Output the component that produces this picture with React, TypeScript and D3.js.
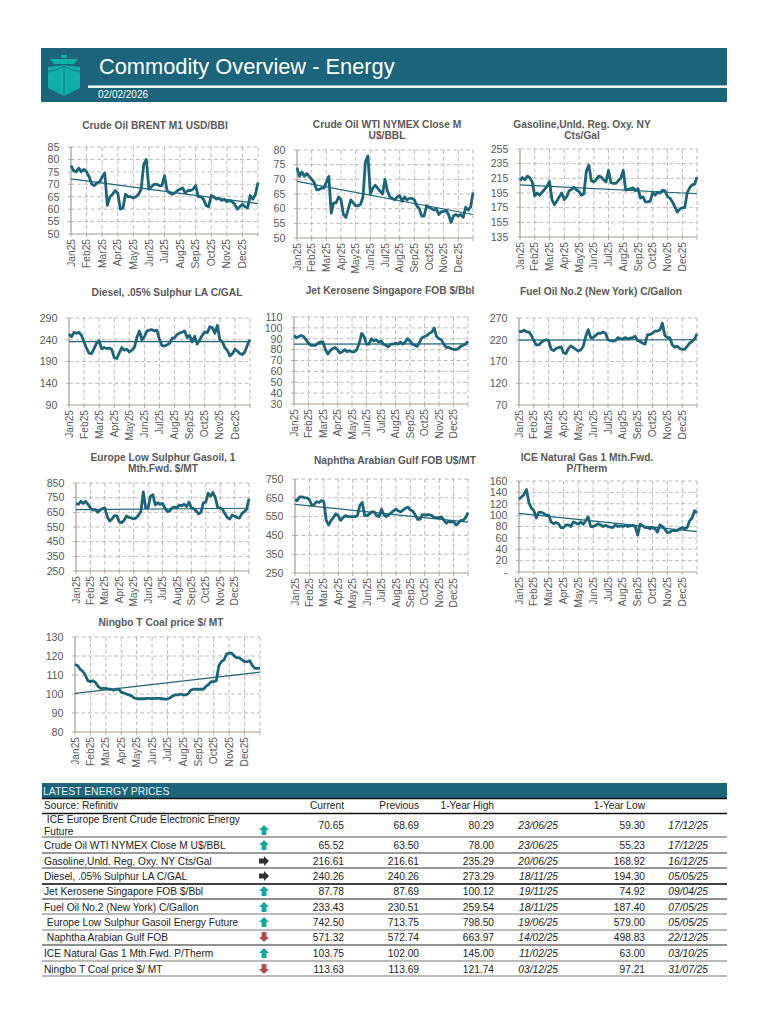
import React from "react";
import * as d3 from "d3";

const months = ["Jan25","Feb25","Mar25","Apr25","May25","Jun25","Jul25","Aug25","Sep25","Oct25","Nov25","Dec25"];

const brent = [77.5,75.5,75,76.5,75,76, 75,73,70,69.5,70.5,71, 73,74.5,61.5,65,66,67.5, 66.5,60,60.5,66,65,65, 64.5,65,66,68,78,80, 68,69,70,70,69.5,69.5, 73.5,67.5,66.5,66,66.5,67.5, 68,68.5,66.5,67.5,67.5,68, 69.5,65,65,64,61.5,61, 65.5,65,64,64.5,63.5,64, 63,63.5,63,62,60,61, 62,61,60.5,65.5,64,66,70.65];
const wti = [74,71,72.5,71,72,71, 70,69,66.5,66.5,67,67, 69,71,58.5,62,62,64, 63,58,57,60,63,62, 61,61,61.5,64,76,78, 65,67,68,67,66,65, 70,66,64,63.5,63,64, 64.5,62.5,64,63,63.5,63.5, 63,61,60,57.5,57.5,61, 60.5,60,59.5,60,58,59, 59,59.5,58,55.3,57.5,58, 57.5,58,57,60.5,59.5,60.5,65.52];
const gasoline = [212,216,213,218,216,210, 191,195,192,196,200,204, 211,186,179,184,190,195, 186,190,198,200,203,199, 197,192,194,225,233,212, 210,213,218,217,213,210, 226,209,208,208,212,215, 226,199,200,201,202,198, 201,188,190,183,183,184, 196,192,196,195,199,198, 190,188,183,176,169,173, 175,175,195,202,206,207,216.61];
const diesel = [253,247,257,255,257,250, 235,220,209,208,220,232, 238,219,222,220,221,218, 199,197,210,222,216,218, 212,216,222,245,260,240, 247,260,262,263,260,262, 240,226,226,228,232,243, 245,252,256,257,260,245, 250,235,248,230,240,250, 258,256,270,268,255,273, 240,235,222,215,203,208, 218,214,208,206,213,228,240.26];
const jet = [93,91,92,93,92,89, 86,84,84,84,86,87, 87,80,76,79,81,82, 80,77,78,80,78,79, 78,78,80,86,95,92, 85,85,90,88,89,87, 88,85,84,82.5,85,85, 86,85,87,85,87,90, 88,85,84,83,87,91, 92,93,95,96,100,92, 90,89,85,82,82,81, 80.5,80,81,83,84,85,87.78];
const fuelOil = [240,238,242,238,238,230, 218,208,208,214,218,220, 218,198,195,200,202,204, 190,188,200,206,202,198, 194,197,205,228,243,225, 225,230,235,235,238,235, 220,218,217,218,225,222, 222,225,222,224,225,228, 218,216,212,210,232,232, 235,240,240,243,258,230, 225,225,208,203,205,200, 198,198,205,212,216,222,233.43];
const gasoil = [710,705,725,710,725,705, 680,665,670,650,665,675, 680,620,590,605,628,625, 585,580,595,625,615,612, 605,612,630,655,790,680, 680,760,770,700,715,705, 710,680,655,660,680,685, 680,700,695,705,690,720, 680,675,660,640,650,715, 720,780,760,785,750,680, 680,670,640,615,605,630, 625,615,610,640,655,670,742.5];
const naphtha = [640,635,655,655,650,650, 640,610,615,630,625,635, 630,530,505,530,545,565, 555,530,545,555,550,550, 550,550,555,610,625,555, 555,565,575,575,555,550, 590,560,550,560,570,580, 590,580,575,585,595,600, 585,580,560,535,535,560, 558,560,560,555,545,545, 545,548,530,515,525,520, 525,505,515,530,530,545,571.32];
const natGas = [128,132,136,145,122,112, 108,95,105,105,103,100, 100,88,85,87,85,78, 78,83,83,80,88,86, 84,88,84,90,97,80, 80,82,85,83,80,82, 80,79,78,83,80,81, 80,82,80,81,82,80, 65,84,81,78,78,76, 79,76,70,83,80,75, 69,70,73,73,73,76, 78,76,78,90,95,108,103.75];
const coal = [115.5,115,113,112,110,107, 106.5,107,106,104,103,103, 103,102.5,102.5,102,102.5,102.5, 101,100.5,100,99.5,99,98, 97.5,97.5,97.5,97.5,97.7,97.7, 97.5,97.7,97.7,97.7,97.5,97.3, 97.3,98,99,99.5,99.5,100, 99.5,99.5,100,102,102.5,102.5, 102.5,102.5,102.5,104,105,106.5, 106.5,107,115,117,118,121, 121.5,121.5,120,119,119,118, 117,117,117.5,115,113.5,113.5,113.63];

const charts = [
  { title: ["Crude Oil BRENT M1 USD/BBI"], tx: 155, ty: 125, box: [71, 258, 147, 234], dom: [50, 85], ticks: [50,55,60,65,70,75,80,85], values: brent, trend: [72.2, 62.2] },
  { title: ["Crude Oil WTI NYMEX Close M", "U$/BBL"], tx: 387, ty: 124, box: [297, 473, 150, 238], dom: [50, 80], ticks: [50,55,60,65,70,75,80], values: wti, trend: [69.3, 58] },
  { title: ["Gasoline,Unld. Reg. Oxy. NY", "Cts/Gal"], tx: 582, ty: 124, box: [520, 697, 149, 237], dom: [135, 255], ticks: [135,155,175,195,215,235,255], values: gasoline, trend: [206, 194] },
  { title: ["Diesel, .05% Sulphur LA C/GAL"], tx: 167, ty: 292, box: [69, 250, 318, 405], dom: [90, 290], ticks: [90,140,190,240,290], values: diesel, trend: [235.5, 235.5] },
  { title: ["Jet Kerosene Singapore FOB $/Bbl"], tx: 390, ty: 290, box: [294, 468, 317, 404], dom: [30, 110], ticks: [30,40,50,60,70,80,90,100,110], values: jet, trend: [85, 85.3] },
  { title: ["Fuel Oil No.2 (New York) C/Gallon"], tx: 601, ty: 291, box: [519, 697, 318, 405], dom: [70, 270], ticks: [70,120,170,220,270], values: fuelOil, trend: [219, 220] },
  { title: ["Europe Low Sulphur Gasoil, 1", "Mth.Fwd. $/MT"], tx: 163, ty: 457, box: [76, 249, 483, 571], dom: [250, 850], ticks: [250,350,450,550,650,750,850], values: gasoil, trend: [668, 678] },
  { title: ["Naphtha Arabian Gulf FOB U$/MT"], tx: 395, ty: 460, box: [295, 468, 479, 573], dom: [250, 750], ticks: [250,350,450,550,650,750], values: naphtha, trend: [615, 521] },
  { title: ["ICE Natural Gas 1 Mth.Fwd.", "P/Therm"], tx: 587, ty: 457, box: [519, 697, 481, 572], dom: [0, 160], ticks: [0,20,40,60,80,100,120,140,160], values: natGas, trend: [103, 71] },
  { title: ["Ningbo T Coal price $/ MT"], tx: 161, ty: 622, box: [75, 260, 637, 732], dom: [80, 130], ticks: [80,90,100,110,120,130], values: coal, trend: [100.3, 111.5] },
];

const rowNames = [
  [" ICE Europe Brent Crude Electronic Energy", "Future"],
  ["Crude Oil WTI NYMEX Close M U$/BBL"],
  ["Gasoline,Unld. Reg. Oxy. NY Cts/Gal"],
  ["Diesel, .05% Sulphur LA C/GAL"],
  ["Jet Kerosene Singapore FOB $/Bbl"],
  ["Fuel Oil No.2 (New York) C/Gallon"],
  [" Europe Low Sulphur Gasoil Energy Future"],
  [" Naphtha Arabian Gulf FOB"],
  ["ICE Natural Gas 1 Mth.Fwd. P/Therm"],
  ["Ningbo T Coal price $/ MT"],
];
const current = ["70.65","65.52","216.61","240.26","87.78","233.43","742.50","571.32","103.75","113.63"];
const previous = ["68.69","63.50","216.61","240.26","87.69","230.51","713.75","572.74","102.00","113.69"];
const high = ["80.29","78.00","235.29","273.29","100.12","259.54","798.50","663.97","145.00","121.74"];
const highDate = ["23/06/25","23/06/25","20/06/25","18/11/25","19/11/25","18/11/25","19/06/25","14/02/25","11/02/25","03/12/25"];
const low = ["59.30","55.23","168.92","194.30","74.92","187.40","579.00","498.83","63.00","97.21"];
const lowDate = ["17/12/25","17/12/25","16/12/25","05/05/25","09/04/25","07/05/25","05/05/25","22/12/25","03/10/25","31/07/25"];
const direction = ["up","up","flat","flat","up","up","up","down","up","down"];

const rowCenters = [825,845,861,876,891,907,922,937,953,969];
const rowLines = [837,853,868,884,899,914,930,945,961,976];
const rowLineStyle = [["#555",1],["#777",1.4],["#333",1],["#000",1.6],["#222",1.2],["#777",1.2],["#777",1],["#222",1],["#777",1],["#777",1.2]];

const TEAL = "#1c6479";
const AQUA = "#0fb0a5";
const FONT = "'Liberation Sans', Arial, sans-serif";
const GREY = "#595959";

function Chart({ c }: { c: (typeof charts)[number] }) {
  const [x0, x1, y0, y1] = c.box;
  const x = d3.scaleLinear().domain([0, c.values.length - 1]).range([x0, x1]);
  const y = d3.scaleLinear().domain(c.dom).range([y1, y0]);
  const m = d3.scaleLinear().domain([0, 12]).range([x0, x1]);
  const line = d3.line<number>().x((_, i) => x(i)).y((d) => y(d));
  const trendLine = d3.line<number>().x((_, i) => (i === 0 ? x0 : x1)).y((d) => y(d));
  const axis = "#a59c90";
  const grid = "#ababab";
  const mt = d3.range(13);
  return (
    <g fontFamily={FONT}>
      {c.title.map((t, i) => (
        <text key={t} x={c.tx} y={c.ty + i * 11.5 + 3.5} textAnchor="middle" fontSize={10.2} fontWeight={700} fill={GREY}>{t}</text>
      ))}
      {c.ticks.slice(1).map((t) => (
        <line key={t} x1={x0} x2={x1} y1={y(t)} y2={y(t)} stroke={grid} strokeWidth={0.8} strokeDasharray="4 2.5" />
      ))}
      {mt.slice(1).map((i) => (
        <line key={i} x1={m(i)} x2={m(i)} y1={y0} y2={y1} stroke={grid} strokeWidth={0.8} strokeDasharray="4 2.5" />
      ))}
      <line x1={x0} x2={x0} y1={y0} y2={y1} stroke={axis} strokeWidth={1.2} />
      <line x1={x0} x2={x1} y1={y1} y2={y1} stroke={axis} strokeWidth={1.2} />
      {c.ticks.map((t) => (
        <g key={t}>
          <line x1={x0 - 3} x2={x0} y1={y(t)} y2={y(t)} stroke={axis} strokeWidth={0.8} />
          <text x={x0 - 11.5} y={y(t) + 3.8} textAnchor="end" fontSize={10.7} fill={GREY}>{t === 0 ? "-" : t}</text>
        </g>
      ))}
      {mt.map((i) => (
        <line key={i} x1={m(i)} x2={m(i)} y1={y1} y2={y1 + 3} stroke={axis} strokeWidth={0.8} />
      ))}
      {months.map((l, i) => (
        <text key={l} transform={`translate(${m(i) + 3.6},${y1 + 5}) rotate(-90)`} textAnchor="end" fontSize={10.2} fill={GREY}>{l}</text>
      ))}
      <path d={trendLine(c.trend) ?? ""} fill="none" stroke={TEAL} strokeWidth={1.2} />
      <path d={line(c.values) ?? ""} fill="none" stroke={TEAL} strokeWidth={2.8} strokeLinejoin="round" />
    </g>
  );
}

function Arrow({ dir, x, y }: { dir: string; x: number; y: number }) {
  const shape = "M0,-5 L5,0 L2.4,0 L2.4,5 L-2.4,5 L-2.4,0 L-5,0 Z";
  if (dir === "up") return <path d={shape} transform={`translate(${x},${y})`} fill="#0fa89f" />;
  if (dir === "down") return <path d={shape} transform={`translate(${x},${y}) rotate(180)`} fill="#b5474f" />;
  return <path d={shape} transform={`translate(${x},${y}) rotate(90)`} fill="#333333" />;
}

export default function App() {
  const cols = [344, 419, 494, 558, 645, 708];
  const data = [current, previous, high, highDate, low, lowDate];
  return (
    <svg width={768} height={1024} viewBox="0 0 768 1024" style={{ position: "absolute", left: 0, top: 0, background: "#fff" }}>
      <rect x={41} y={48} width={686} height={54} fill={TEAL} />
      <rect x={88} y={85.5} width={639} height={2.4} fill="#fff" />
      <text x={99} y={74} fontFamily={FONT} fontSize={21.8} fill="#fff">Commodity Overview - Energy</text>
      <text x={98} y={97.5} fontFamily={FONT} fontSize={10} fill="#fff">02/02/2026</text>
      <g fill={AQUA}>
        <path d="M48,67 L64,65 L80,67 L80,88 L64,96 L48,88 Z" />
        <rect x={61} y={55} width={6} height={3} />
        <path d="M50,59 L78,59 L74,64 L54,64 Z" />
      </g>
      <line x1={64} x2={64} y1={66} y2={96} stroke={TEAL} strokeWidth={0.8} />
      <path d="M48,72 Q58,70 64,66 Q70,70 80,72" fill="none" stroke={TEAL} strokeWidth={0.8} />

      {charts.map((c) => <Chart key={c.title[0]} c={c} />)}

      <rect x={42} y={783} width={685} height={15} fill={TEAL} />
      <text x={43} y={794.5} fontFamily={FONT} fontSize={10.4} fill="#e8f0f2">LATEST ENERGY PRICES</text>
      <line x1={42} x2={727} y1={798.5} y2={798.5} stroke="#111" strokeWidth={1.4} />
      <line x1={42} x2={727} y1={813.5} y2={813.5} stroke="#111" strokeWidth={1.5} />
      <g fontFamily={FONT} fontSize={10.2} fill="#222">
        <text x={44} y={809}>Source: Refinitiv</text>
        <text x={344} y={809} textAnchor="end">Current</text>
        <text x={419} y={809} textAnchor="end">Previous</text>
        <text x={494} y={809} textAnchor="end">1-Year High</text>
        <text x={645} y={809} textAnchor="end">1-Year Low</text>
        {rowNames.map((r, i) => (
          <g key={i}>
            {r.length === 2 ? (
              <>
                <text x={44} y={822.5} xmlSpace="preserve">{r[0]}</text>
                <text x={44} y={835}>{r[1]}</text>
              </>
            ) : (
              <text x={44} y={rowCenters[i] + 3.5} xmlSpace="preserve">{r[0]}</text>
            )}
            <Arrow dir={direction[i]} x={264} y={i === 0 ? 830 : rowCenters[i]} />
            {data.map((col, j) => (
              <text key={j} x={cols[j]} y={rowCenters[i] + 3.5} textAnchor="end" fontStyle={j === 3 || j === 5 ? "italic" : "normal"}>{col[i]}</text>
            ))}
            <line x1={42} x2={727} y1={rowLines[i]} y2={rowLines[i]} stroke={rowLineStyle[i][0] as string} strokeWidth={rowLineStyle[i][1] as number} />
          </g>
        ))}
      </g>
    </svg>
  );
}
